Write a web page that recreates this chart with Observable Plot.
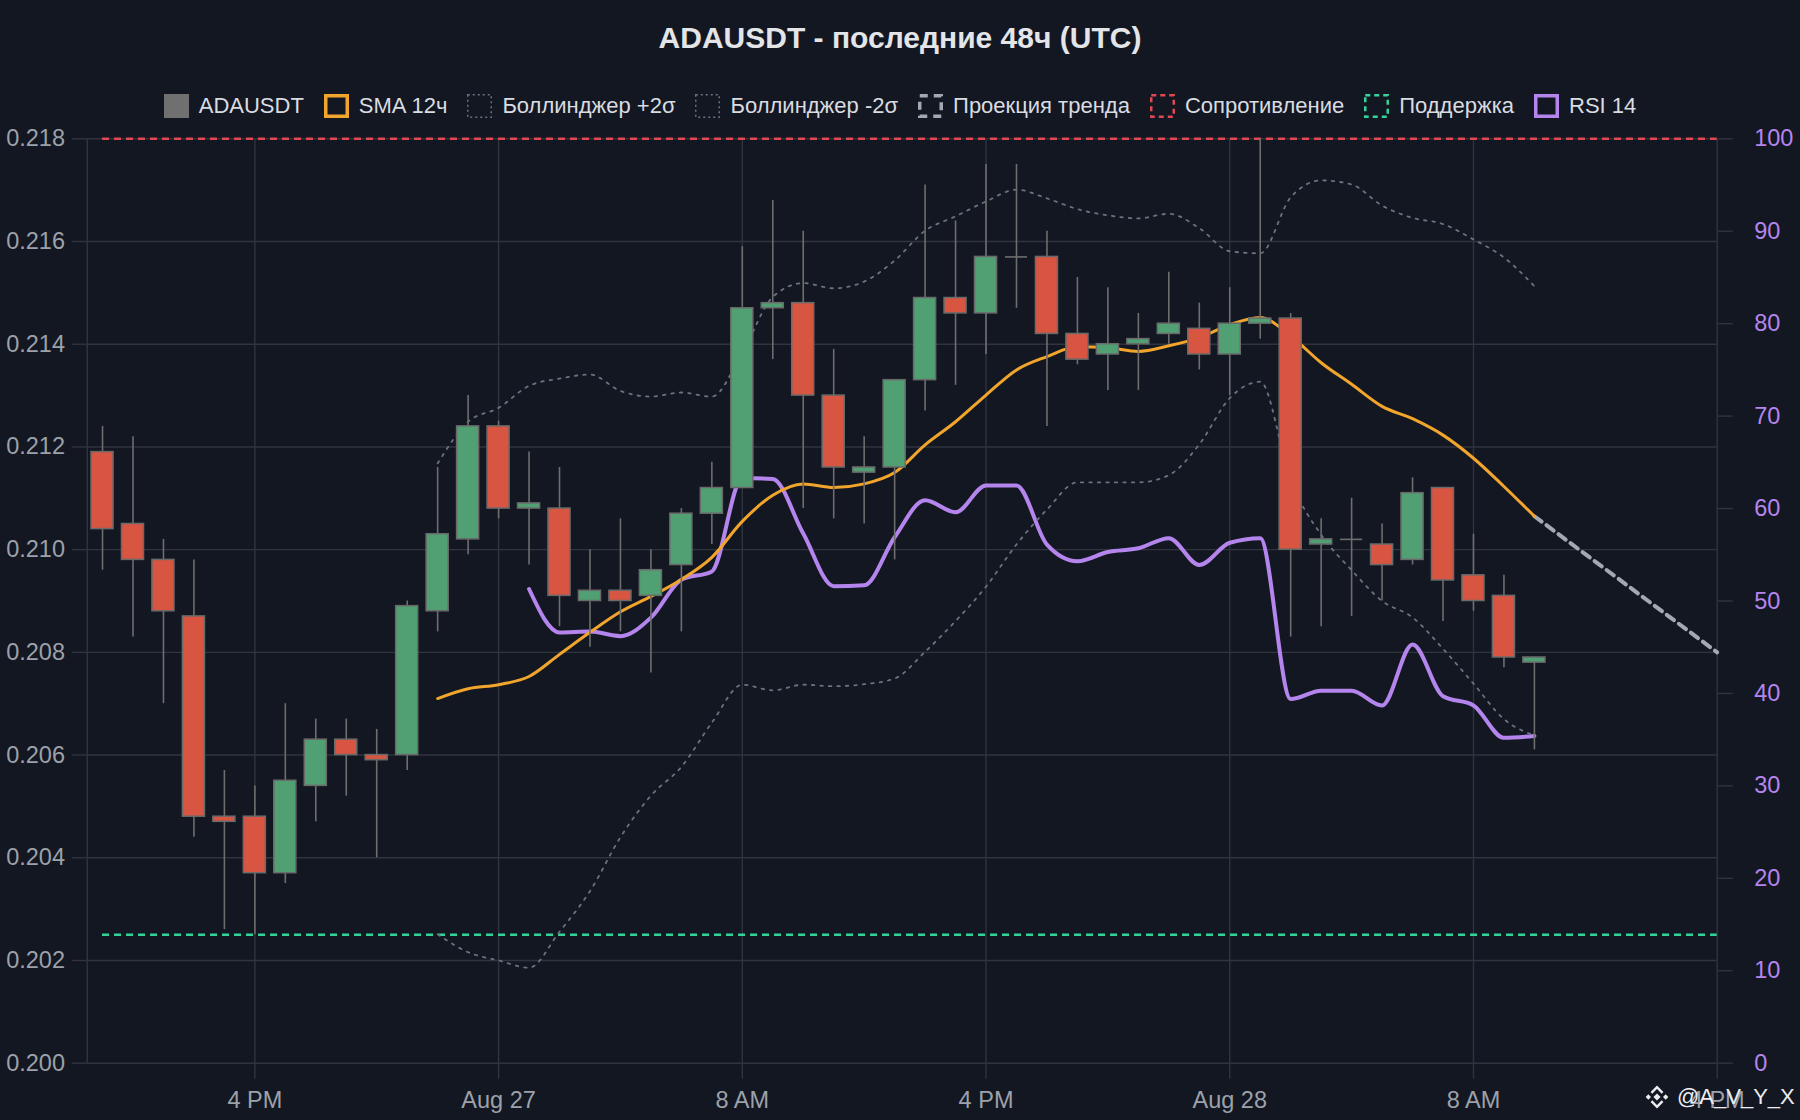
<!DOCTYPE html>
<html>
<head>
<meta charset="utf-8">
<script src="https://cdn.jsdelivr.net/npm/d3@7"></script>
<script src="https://cdn.jsdelivr.net/npm/@observablehq/plot@0.6"></script>
<style>
html, body { margin: 0; padding: 0; background: #131722; }
#root { position: relative; width: 1800px; height: 1120px; overflow: hidden; background: #131722;
  font-family: "Liberation Sans", Arial, Helvetica, sans-serif; }
#title { position: absolute; left: 0; top: 21px; width: 1800px; text-align: center; line-height: 34px;
  font-size: 30px; font-weight: bold; color: #e3e5e9; }
#legend { position: absolute; left: 0; top: 93px; width: 1800px; height: 26px; display: flex;
  justify-content: center; align-items: center; gap: 20px; font-size: 22px; color: #d9dce1; z-index: 2; }
#legend .item { display: flex; align-items: center; gap: 10px; height: 26px; }
#legend .item span { line-height: 26px; white-space: nowrap; }
#legend svg { display: block; }
#chart { position: absolute; left: 0; top: 120px; z-index: 1; }
#wm { position: absolute; left: 1643px; top: 1083px; display: flex; align-items: center; gap: 6px;
  color: #eceef1; font-size: 22px; line-height: 28px; z-index: 3; }
</style>
</head>
<body>
<div id="root">
  <div id="title">ADAUSDT - последние 48ч (UTC)</div>
  <div id="legend"></div>
  <div id="chart"></div>
  <div id="wm">
    <svg width="28" height="28" viewBox="0 0 126 126">
      <g fill="#eceef1">
        <polygon points="63,47 79,63 63,79 47,63"/>
        <polygon points="24,51 36,63 24,75 12,63"/>
        <polygon points="102,51 114,63 102,75 90,63"/>
      </g>
      <g fill="none" stroke="#eceef1" stroke-width="11">
        <polyline points="38,44 63,19 88,44"/>
        <polyline points="38,82 63,107 88,82"/>
      </g>
    </svg>
    <span>@A_V_Y_X</span>
  </div>
</div>
<script>
// ---------------- DATA ----------------
const firstCandleUTC = Date.UTC(2025, 7, 26, 11); // Aug 26, 11:00 UTC, hourly candles
const HOUR = 3600e3;

const open  = [0.2119,0.2105,0.2098,0.2087,0.2048,0.2048,0.2037,0.2054,0.2063,0.2060,
               0.2060,0.2088,0.2102,0.2124,0.2108,0.2108,0.2090,0.2092,0.2091,0.2097,
               0.2107,0.2112,0.2147,0.2148,0.2130,0.2115,0.2116,0.2133,0.2149,0.2146,
               0.2157,0.2157,0.2142,0.2138,0.2140,0.2142,0.2143,0.2138,0.2144,0.2145,
               0.2101,0.2102,0.2101,0.2098,0.2112,0.2095,0.2091,0.2078];
const high  = [0.2124,0.2122,0.2102,0.2098,0.2057,0.2054,0.2070,0.2067,0.2067,0.2065,
               0.2090,0.2116,0.2130,0.2125,0.2119,0.2116,0.2100,0.2106,0.2100,0.2108,
               0.2117,0.2159,0.2168,0.2162,0.2139,0.2122,0.2133,0.2171,0.2164,0.2175,
               0.2175,0.2162,0.2153,0.2151,0.2146,0.2154,0.2148,0.2151,0.2180,0.2146,
               0.2106,0.2110,0.2105,0.2114,0.2112,0.2103,0.2095,0.2079];
const low   = [0.2096,0.2083,0.2070,0.2044,0.2026,0.2025,0.2035,0.2047,0.2052,0.2040,
               0.2057,0.2084,0.2099,0.2106,0.2097,0.2085,0.2081,0.2084,0.2076,0.2084,
               0.2101,0.2112,0.2137,0.2108,0.2106,0.2105,0.2098,0.2127,0.2132,0.2138,
               0.2147,0.2124,0.2136,0.2131,0.2131,0.2140,0.2135,0.2130,0.2141,0.2083,
               0.2085,0.2087,0.2090,0.2097,0.2086,0.2088,0.2077,0.2061];
const close = [0.2104,0.2098,0.2088,0.2048,0.2047,0.2037,0.2055,0.2063,0.2060,0.2059,
               0.2089,0.2103,0.2124,0.2108,0.2109,0.2091,0.2092,0.2090,0.2096,0.2107,
               0.2112,0.2147,0.2148,0.2130,0.2116,0.2116,0.2133,0.2149,0.2146,0.2157,
               0.2157,0.2142,0.2137,0.2140,0.2141,0.2144,0.2138,0.2144,0.2145,0.2100,
               0.2102,0.2102,0.2097,0.2111,0.2094,0.2090,0.2079,0.2079];

// SMA 12 and Bollinger bands start at candle index 11
const smaStartIndex = 11;
const sma12 = [0.20710,0.20729,0.20737,0.20753,0.20796,0.20839,0.20879,0.20909,0.20942,0.20985,
               0.21055,0.21106,0.21128,0.21121,0.21128,0.21150,0.21204,0.21249,0.21301,0.21350,
               0.21376,0.21395,0.21393,0.21386,0.21397,0.21413,0.21438,0.21452,0.21416,0.21364,
               0.21322,0.21279,0.21255,0.21223,0.21178,0.21123,0.21065];
const bollUpper = [0.21168,0.21249,0.21276,0.21319,0.21333,0.21341,0.21309,0.21298,0.21306,0.21298,
                   0.21384,0.21492,0.21519,0.21509,0.21522,0.21563,0.21621,0.21649,0.21678,0.21701,
                   0.21684,0.21663,0.21651,0.21645,0.21654,0.21626,0.21581,0.21577,0.21686,0.21719,
                   0.21711,0.21670,0.21646,0.21634,0.21604,0.21569,0.21513];
const bollLower = [0.20251,0.20216,0.20200,0.20186,0.20256,0.20335,0.20440,0.20521,0.20577,0.20663,
                   0.20737,0.20726,0.20737,0.20734,0.20738,0.20749,0.20801,0.20861,0.20928,0.21010,
                   0.21078,0.21131,0.21131,0.21131,0.21145,0.21205,0.21295,0.21327,0.21134,0.21029,
                   0.20960,0.20900,0.20868,0.20807,0.20739,0.20670,0.20638];

// RSI 14 starts at candle index 14
const rsiStartIndex = 14;
const rsi14 = [51.3,46.6,46.7,46.2,48.2,52.3,53.2,63.3,63.2,57.3,
               51.6,51.7,56.9,60.9,59.6,62.5,62.5,56.1,54.3,55.3,
               55.7,56.8,53.9,56.3,56.8,39.4,40.3,40.3,38.7,45.3,
               39.7,38.7,35.2,35.4];

// Trend projection: hours after the first candle and price
const trendHours  = [47, 53];
const trendValues = [0.21065, 0.2080];

const resistanceLevel = 0.2180;
const supportLevel = 0.2025;
const levelHours = [0, 53];

const priceTicks = [0.200,0.202,0.204,0.206,0.208,0.210,0.212,0.214,0.216,0.218];
const rsiTicks = [0,10,20,30,40,50,60,70,80,90,100];
const xTickHours = [5, 13, 21, 29, 37, 45, 53];
const xTickLabels = ["4 PM","Aug 27","8 AM","4 PM","Aug 28","8 AM","4 PM"];

// ---------------- STYLE ----------------
const GRID = "#30343e";
const LABEL = "#9ca1aa";
const UP = "#50a073", DOWN = "#d75541", FLAT = "#6e6e6e";
const BORDER = "#6a6a6a", WICK = "#6e6e6e";
const SMA_C = "#f2a52c";
const BOLL_C = "#6b7280";
const TREND_C = "#a3a8b1";
const RES_C = "#e04852";
const SUP_C = "#34d399";
const RSI_C = "#b585ee";

// ---------------- BUILD ----------------
const tAt = h => new Date(firstCandleUTC + h * HOUR);
const rsiMin = priceTicks[0], rsiMax = priceTicks[priceTicks.length - 1];
const rsiToPrice = r => rsiMin + (r / 100) * (rsiMax - rsiMin);
const priceToRsi = p => (p - rsiMin) / (rsiMax - rsiMin) * 100;

const candles = open.map((o, i) => ({
  t: tAt(i), t0: tAt(i - 0.5), t1: tAt(i + 0.5),
  o, h: high[i], l: low[i], c: close[i]
}));
const smaData = sma12.map((v, i) => ({t: tAt(smaStartIndex + i), v}));
const upperData = bollUpper.map((v, i) => ({t: tAt(smaStartIndex + i), v}));
const lowerData = bollLower.map((v, i) => ({t: tAt(smaStartIndex + i), v}));
const rsiData = rsi14.map((v, i) => ({t: tAt(rsiStartIndex + i), v}));
const trendData = trendHours.map((h, i) => ({t: tAt(h), v: trendValues[i]}));
const resData = [{y: resistanceLevel, x1: tAt(levelHours[0]), x2: tAt(levelHours[1])}];
const supData = [{y: supportLevel, x1: tAt(levelHours[0]), x2: tAt(levelHours[1])}];
const xTicks = xTickHours.map(tAt);
const xLabelMap = new Map(xTicks.map((d, i) => [+d, xTickLabels[i]]));
const xDomain = [tAt(-0.5), tAt(53)];

const inset = 4.2;
const chart = Plot.plot({
  width: 1800,
  height: 1000,
  marginTop: 18.3,
  marginBottom: 57.3,
  marginLeft: 86.8,
  marginRight: 83.3,
  style: {background: "transparent", color: LABEL, fontFamily: '"Liberation Sans", Arial, sans-serif', fontSize: "23.5px", overflow: "visible"},
  x: {type: "utc", domain: xDomain},
  y: {domain: [rsiMin, rsiMax]},
  marks: [
    Plot.gridY(priceTicks, {stroke: GRID, strokeOpacity: 1, strokeWidth: 1.4}),
    Plot.gridX(xTicks, {stroke: GRID, strokeOpacity: 1, strokeWidth: 1.4}),
    Plot.ruleX([xDomain[0]], {stroke: GRID, strokeWidth: 1.4}),
    Plot.axisY(priceTicks, {anchor: "left", tickSize: 15, tickPadding: 7.3, stroke: GRID, strokeWidth: 1.4,
      color: LABEL, tickFormat: d3.format(".3f"), label: null}),
    Plot.axisY(rsiTicks.map(rsiToPrice), {anchor: "right", tickSize: 15, tickPadding: 22, stroke: GRID, strokeWidth: 1.4,
      color: RSI_C, tickFormat: v => String(Math.round(priceToRsi(v))), label: null}),
    Plot.axisX(xTicks, {anchor: "bottom", tickSize: 16, tickPadding: 12.5, stroke: GRID, strokeWidth: 1.4,
      color: LABEL, tickFormat: d => xLabelMap.get(+d), label: null}),
    // RSI (drawn first, below everything)
    Plot.line(rsiData, {x: "t", y: d => rsiToPrice(d.v), stroke: RSI_C, strokeWidth: 4, curve: "monotone-x"}),
    // support / resistance
    Plot.ruleY(supData, {y: "y", x1: "x1", x2: "x2", stroke: SUP_C, strokeWidth: 2.6, strokeDasharray: "7,5"}),
    Plot.ruleY(resData, {y: "y", x1: "x1", x2: "x2", stroke: RES_C, strokeWidth: 2.6, strokeDasharray: "7,5"}),
    // trend projection
    Plot.line(trendData, {x: "t", y: "v", stroke: TREND_C, strokeWidth: 4, strokeDasharray: "9,6"}),
    // Bollinger bands
    Plot.line(lowerData, {x: "t", y: "v", stroke: BOLL_C, strokeWidth: 1.8, strokeDasharray: "2.5,6", curve: "monotone-x"}),
    Plot.line(upperData, {x: "t", y: "v", stroke: BOLL_C, strokeWidth: 1.8, strokeDasharray: "2.5,6", curve: "monotone-x"}),
    // SMA
    Plot.line(smaData, {x: "t", y: "v", stroke: SMA_C, strokeWidth: 3, curve: "monotone-x"}),
    // candles
    Plot.ruleX(candles, {x: "t", y1: "l", y2: "h", stroke: WICK, strokeWidth: 1.6}),
    Plot.rect(candles, {filter: d => d.c > d.o, x1: "t0", x2: "t1", y1: "o", y2: "c", insetLeft: inset, insetRight: inset,
      fill: UP, stroke: BORDER, strokeWidth: 1.5}),
    Plot.rect(candles, {filter: d => d.c < d.o, x1: "t0", x2: "t1", y1: "o", y2: "c", insetLeft: inset, insetRight: inset,
      fill: DOWN, stroke: BORDER, strokeWidth: 1.5}),
    Plot.ruleY(candles, {filter: d => d.c === d.o, y: "c", x1: "t0", x2: "t1", insetLeft: inset, insetRight: inset,
      stroke: FLAT, strokeWidth: 1.6})
  ]
});
document.getElementById("chart").appendChild(chart);

// ---------------- LEGEND ----------------
const legendItems = [
  {label: "ADAUSDT", fill: "#707070", stroke: "none", width: 0, dash: null},
  {label: "SMA 12ч", fill: "none", stroke: SMA_C, width: 3.5, dash: null},
  {label: "Боллинджер +2σ", fill: "none", stroke: BOLL_C, width: 1.5, dash: "2,3"},
  {label: "Боллинджер -2σ", fill: "none", stroke: BOLL_C, width: 1.5, dash: "2,3"},
  {label: "Проекция тренда", fill: "none", stroke: TREND_C, width: 3.5, dash: "8,6"},
  {label: "Сопротивление", fill: "none", stroke: RES_C, width: 2.5, dash: "5,4"},
  {label: "Поддержка", fill: "none", stroke: SUP_C, width: 2.5, dash: "5,4"},
  {label: "RSI 14", fill: "none", stroke: RSI_C, width: 3.5, dash: null}
];
const legend = document.getElementById("legend");
for (const it of legendItems) {
  const div = document.createElement("div");
  div.className = "item";
  const w = it.width;
  const rect = `<rect x="${w/2}" y="${w/2}" width="${25 - w}" height="${24 - w}" fill="${it.fill}" stroke="${it.stroke}" stroke-width="${w}"${it.dash ? ` stroke-dasharray="${it.dash}"` : ""}/>`;
  div.innerHTML = `<svg width="25" height="24">${rect}</svg><span>${it.label}</span>`;
  legend.appendChild(div);
}
</script>
</body>
</html>
